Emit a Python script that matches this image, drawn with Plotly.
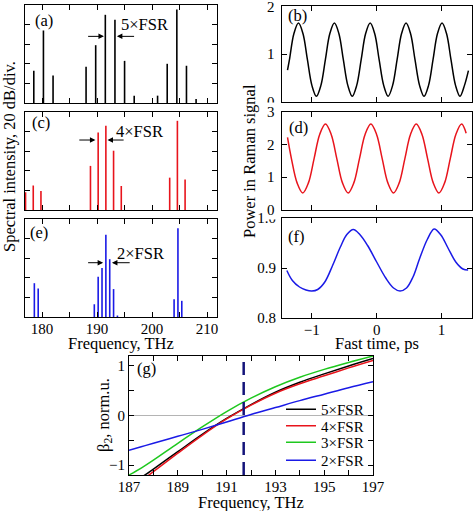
import plotly.graph_objects as go

# ---------------- data ----------------
# (a) 5xFSR spectrum
A_freq = [178.5, 180.25, 182.0, 188.0, 189.75, 191.5, 193.25, 195.0, 196.75, 201.0, 202.75, 204.5, 206.25, 208.0]
A_level = [33, 74, 28, 37, 59, 90, 85, 43, 7.5, 7.5, 40, 95.5, 38, 4]
# (c) 4xFSR spectrum
C_freq = [177.0, 178.4, 179.8, 188.8, 190.2, 191.6, 193.0, 194.4, 203.2, 204.6, 206.0]
C_level = [18, 25, 19.5, 45, 79, 86, 60.5, 24.5, 33, 91, 31]
# (e) 2xFSR spectrum
E_freq = [178.6, 179.3, 189.5, 190.2, 190.9, 191.6, 192.3, 193.0, 193.7, 204.0, 204.7, 205.4]
E_level = [34.5, 29, 13, 41, 50, 84, 59, 28.5, 1.5, 18, 90.5, 16.5]

# (b) Raman power, 5xFSR
B_t = [-1.375, -1.345, -1.276, -1.206, -1.137, -1.068, -0.999, -0.930, -0.860, -0.791, -0.722,
       -0.652, -0.583, -0.514, -0.445, -0.377, -0.308, -0.239, -0.170, -0.100, -0.031, 0.038,
       0.108, 0.177, 0.246, 0.315, 0.384, 0.453, 0.522, 0.591, 0.661, 0.730, 0.800, 0.869,
       0.938, 1.008, 1.077, 1.146, 1.216, 1.285, 1.354, 1.415]
B_p = [0.67, 0.89, 1.44, 1.66, 1.44, 0.89, 0.35, 0.12, 0.35, 0.89, 1.44,
       1.66, 1.44, 0.89, 0.35, 0.12, 0.35, 0.89, 1.44, 1.66, 1.44, 0.89,
       0.35, 0.12, 0.35, 0.89, 1.44, 1.66, 1.44, 0.89, 0.35, 0.12, 0.35, 0.89,
       1.44, 1.66, 1.44, 0.89, 0.35, 0.12, 0.35, 0.66]
B_ticks = [0, 1, 2]

# (d) Raman power, 4xFSR
D_t = [-1.375, -1.315, -1.2275, -1.14, -1.0525, -0.965, -0.8775, -0.79, -0.7025, -0.615,
       -0.5275, -0.44, -0.3525, -0.265, -0.1775, -0.09, -0.0025, 0.085, 0.1725, 0.26,
       0.3475, 0.435, 0.5225, 0.61, 0.6975, 0.785, 0.8725, 0.96, 1.0475, 1.135, 1.2225,
       1.31, 1.38]
D_p = [2.22, 1.575, 0.83, 0.52, 0.83, 1.575, 2.32, 2.63, 2.32, 1.575,
       0.83, 0.52, 0.83, 1.575, 2.32, 2.63, 2.32, 1.575, 0.83, 0.52,
       0.83, 1.575, 2.32, 2.63, 2.32, 1.575, 0.83, 0.52, 0.83, 1.575, 2.32,
       2.63, 2.35]
D_ticks = [0, 1, 2, 3]

# (f) Raman power, 2xFSR
F_t = [-1.385, -1.30, -1.19, -1.09, -1.00, -0.91, -0.80, -0.68, -0.56, -0.46, -0.36, -0.26,
       -0.14, 0.00, 0.14, 0.26, 0.36, 0.46, 0.56, 0.66, 0.78, 0.886, 0.99, 1.10, 1.22, 1.33, 1.41]
F_p = [0.895, 0.875, 0.862, 0.856, 0.854, 0.857, 0.872, 0.905, 0.942, 0.967, 0.977, 0.967,
       0.945, 0.912, 0.880, 0.860, 0.854, 0.860, 0.882, 0.918, 0.957, 0.978, 0.966, 0.940, 0.912,
       0.898, 0.896]
F_ticks = [0.8, 0.9, 1.0]

# (g) beta2 vs frequency
G_f = [187.0, 187.5, 188.0, 189.0, 190.0, 191.0, 192.0, 193.0, 194.0, 195.0, 196.0, 197.0]
G_black = [-1.40, -1.25, -1.08, -0.73, -0.38, -0.06, 0.22, 0.47, 0.67, 0.84, 1.00, 1.15]
G_red = [-1.48, -1.32, -1.13, -0.76, -0.40, -0.07, 0.21, 0.45, 0.64, 0.80, 0.96, 1.11]
G_green = [-1.20, -1.06, -0.90, -0.56, -0.23, 0.08, 0.35, 0.58, 0.77, 0.93, 1.07, 1.20]
G_blue = [-0.70, -0.63, -0.56, -0.42, -0.28, -0.13, 0.02, 0.16, 0.30, 0.43, 0.56, 0.68]
G_names = ["5×FSR", "4×FSR", "3×FSR", "2×FSR"]
G_dashed_f = 191.7

# ---------------- figure ----------------
W, H = 474, 511
FONT = "Liberation Serif"
TICK = 15
TITLE = 16.5


def fx(px):
    return px / W


def fy(py):
    return 1 - py / H


def stems(freqs, levels):
    xs, ys = [], []
    for f, l in zip(freqs, levels):
        xs += [f, f, None]
        ys += [0, l, None]
    return xs, ys


fig = go.Figure()

spec = [(A_freq, A_level, "#000000", "x", "y"),
        (C_freq, C_level, "#e8141c", "x2", "y2"),
        (E_freq, E_level, "#1a1ae6", "x3", "y3")]
for fr, lv, col, xa, ya in spec:
    xs, ys = stems(fr, lv)
    fig.add_trace(go.Scatter(x=xs, y=ys, mode="lines", line=dict(color=col, width=1.6),
                             xaxis=xa, yaxis=ya, showlegend=False, hoverinfo="skip"))

fig.add_trace(go.Scatter(x=B_t, y=B_p, mode="lines", line=dict(color="black", width=1.5, shape="spline", smoothing=1.0),
                         xaxis="x4", yaxis="y4", showlegend=False))
fig.add_trace(go.Scatter(x=D_t, y=D_p, mode="lines", line=dict(color="#e8141c", width=1.5, shape="spline", smoothing=1.0),
                         xaxis="x5", yaxis="y5", showlegend=False))
fig.add_trace(go.Scatter(x=F_t, y=F_p, mode="lines", line=dict(color="#1a1ae6", width=1.5, shape="spline", smoothing=1.0),
                         xaxis="x6", yaxis="y6", showlegend=False))

g_cols = ["#000000", "#e8141c", "#1ec81e", "#1a1ae6"]
g_legs = ["legend", "legend2", "legend3", "legend4"]
for ys, col, nm, lg in zip([G_black, G_red, G_green, G_blue], g_cols, G_names, g_legs):
    fig.add_trace(go.Scatter(x=G_f, y=ys, mode="lines", name=nm, legend=lg,
                             line=dict(color=col, width=1.5, shape="spline", smoothing=1.0),
                             xaxis="x7", yaxis="y7"))

# dashed vertical line in (g)
fig.add_shape(type="line", xref="x7", yref="y7", x0=G_dashed_f, x1=G_dashed_f, y0=-1.2, y1=1.2,
              line=dict(color="#14147a", width=2.5, dash="13px,7px"))

axis_common = dict(showline=True, linecolor="black", linewidth=1, mirror="allticks",
                   ticks="inside", ticklen=5, tickcolor="black", tickwidth=1,
                   showgrid=False, zeroline=False, automargin=True,
                   ticklabeloverflow="allow",
                   tickfont=dict(family=FONT, size=TICK, color="black"))

left_dom = [fx(25), fx(217)]
right_dom = [fx(282), fx(472)]
spec_ticks = [175, 180, 185, 190, 195, 200, 205, 210]
spec_text = ["", "180", "", "190", "", "200", "", "210"]

layout = dict(width=W, height=H, autosize=False,
              margin=dict(l=0, r=0, t=0, b=0, pad=0, autoexpand=False),
              paper_bgcolor="white", plot_bgcolor="white",
              font=dict(family=FONT, size=TICK, color="black"),
              showlegend=True)

rows_left = [(5, 103), (112, 210), (219, 317)]
for i, (t, b) in enumerate(rows_left):
    n = "" if i == 0 else str(i + 1)
    layout["xaxis" + n] = dict(axis_common, domain=left_dom, range=[176.9, 211.8],
                               tickvals=spec_ticks, ticktext=spec_text, ticklabelstandoff=-2,
                               showticklabels=(i == 2), anchor="y" + n)
    layout["yaxis" + n] = dict(axis_common, domain=[fy(b), fy(t)], range=[0, 100],
                               tickvals=[20, 40, 60, 80], showticklabels=False, anchor="x" + n)

rows_right = [((6, 102), [0, 2.02], B_ticks),
              ((112, 210), [0, 3], D_ticks),
              ((218, 318), [0.8, 1.0], F_ticks)]
for i, ((t, b), rng, tv) in enumerate(rows_right):
    n = str(i + 4)
    layout["xaxis" + n] = dict(axis_common, domain=right_dom, range=[-1.46, 1.47],
                               tickvals=[-1, 0, 1], ticktext=["−1", "0", "1"], ticklabelstandoff=-2,
                               showticklabels=(i == 2), anchor="y" + n)
    layout["yaxis" + n] = dict(axis_common, domain=[fy(b), fy(t)], range=rng,
                               tickvals=tv, ticktext=["%.1f" % v if i == 2 else "%d" % v for v in tv],
                               ticklabelstandoff=2, showticklabels=(i == 2), anchor="x" + n)

layout["xaxis7"] = dict(axis_common, domain=[fx(129), fx(373)], range=[187, 197],
                        tickvals=list(range(187, 198)), ticklabelstandoff=-2,
                        ticktext=[str(v) if v % 2 == 1 else "" for v in range(187, 198)],
                        anchor="y7")
layout["yaxis7"] = dict(axis_common, domain=[fy(475), fy(356)], range=[-1.2, 1.2],
                        tickvals=[-1, -0.5, 0, 0.5, 1], ticktext=["−1", "", "0", "", "1"],
                        zeroline=True, zerolinecolor="#b4b4b4", zerolinewidth=1, anchor="x7")

leg_rows = [409.5, 426, 442.5, 460.5]
for lg, yr in zip(g_legs, leg_rows):
    layout[lg] = dict(x=fx(281), y=fy(yr), xanchor="left", yanchor="middle",
                      bgcolor="rgba(0,0,0,0)", borderwidth=0,
                      font=dict(family=FONT, size=15, color="black"),
                      itemwidth=30, tracegroupgap=0)

fig.update_layout(**layout)

ann = []


def txt(x, y, s, size=TITLE, angle=0, xanchor="center"):
    ann.append(dict(x=fx(x), y=fy(y), xref="paper", yref="paper", text=s, showarrow=False,
                    textangle=angle, xanchor=xanchor, yanchor="middle",
                    font=dict(family=FONT, size=size, color="black")))


# axis titles
txt(10, 157, "Spectral intensity, 20 dB/div.", angle=-90)
txt(250, 161, "Power in Raman signal", angle=-90)
txt(121, 343, "Frequency, THz")
txt(377, 343, "Fast time, ps")
txt(251, 502, "Frequency, THz")
txt(104, 415, "β<sub>2</sub>, norm.u.", angle=-90)

# panel labels
txt(33, 20, "(a)", xanchor="left")
txt(30, 122, "(c)", xanchor="left")
txt(28, 233, "(e)", xanchor="left")
txt(286, 15, "(b)", xanchor="left")
txt(287, 127, "(d)", xanchor="left")
txt(286, 237, "(f)", xanchor="left")
txt(135, 368, "(g)", xanchor="left")

# FSR arrows (data coordinates of each spectrum panel)
arrows = [("x", "y", 188.1, 191.25, 197.0, 193.6, 68, 198.6, 80, "5×FSR"),
          ("x2", "y2", 186.5, 189.7, 195.1, 191.9, 71.4, 197.7, 80, "4×FSR"),
          ("x3", "y3", 188.1, 191.1, 196.2, 192.7, 55.4, 197.9, 65, "2×FSR")]
for xa, ya, l0, l1, r0, r1, yv, tx, ty, lab in arrows:
    for tail, head in [(l0, l1), (r0, r1)]:
        ann.append(dict(x=head, y=yv, ax=tail, ay=yv, xref=xa, yref=ya, axref=xa, ayref=ya,
                        text="", showarrow=True, arrowhead=2, arrowsize=1.1, arrowwidth=1,
                        arrowcolor="black", standoff=0, startstandoff=0))
    ann.append(dict(x=tx, y=ty, xref=xa, yref=ya, text=lab, showarrow=False,
                    font=dict(family=FONT, size=TITLE, color="black")))

# y tick labels of panels (b) and (d), placed on their own y axes (drawn last)
for ya, tv in [("y4", B_ticks), ("y5", D_ticks)]:
    for v in tv:
        ann.append(dict(x=fx(277), y=v, xref="paper", yref=ya, text=str(v), showarrow=False,
                        xanchor="right", yanchor="middle", bgcolor="white",
                        font=dict(family=FONT, size=TICK, color="black")))

fig.update_layout(annotations=ann)
fig.write_html("out.html",
               post_script="document.body.style.margin='0px';document.body.style.padding='0px';")
